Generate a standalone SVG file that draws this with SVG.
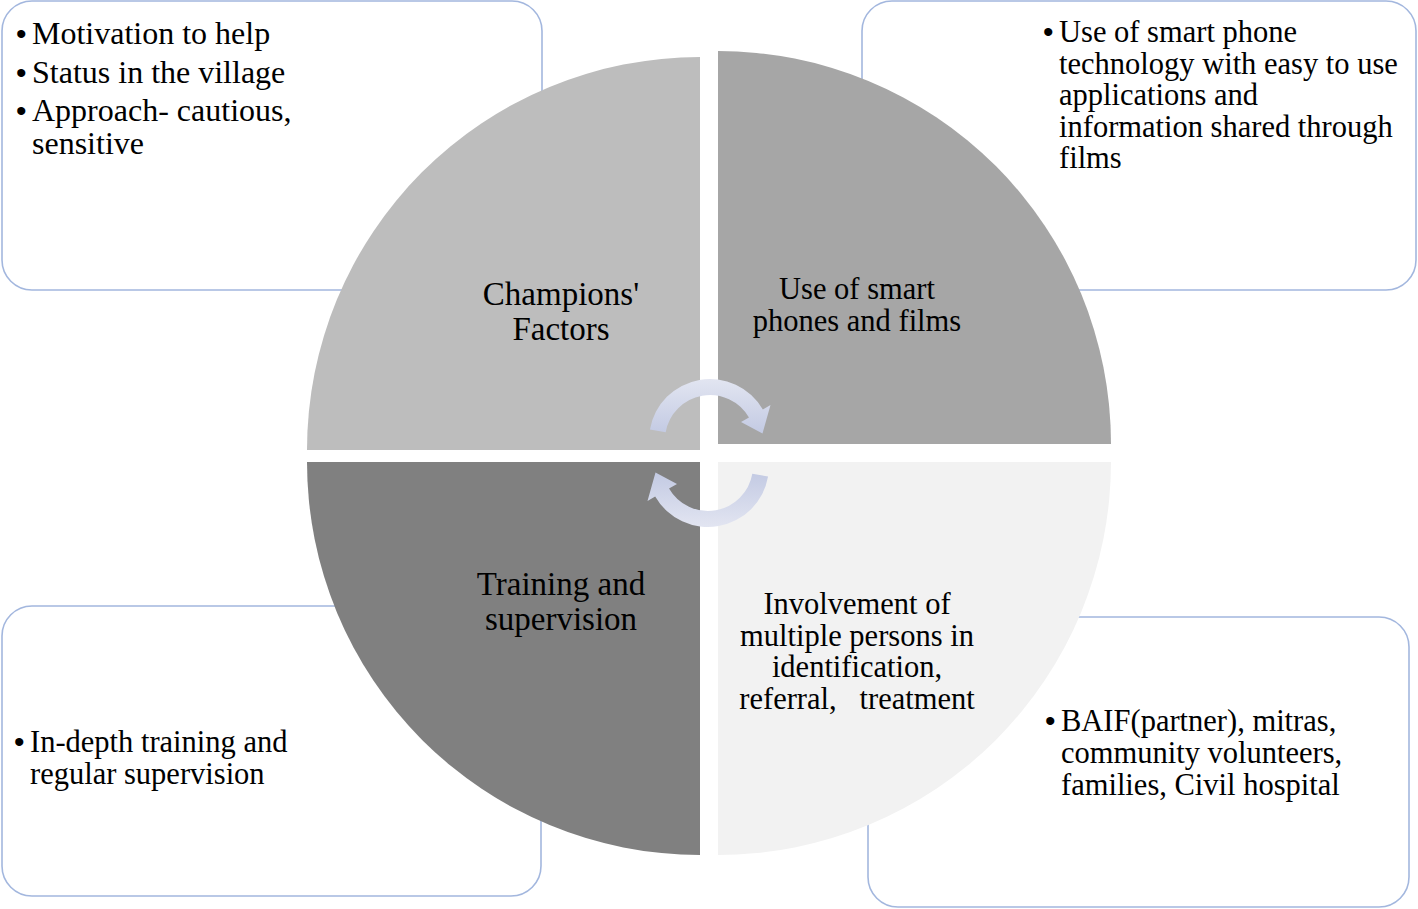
<svg xmlns="http://www.w3.org/2000/svg" width="1418" height="909" viewBox="0 0 1418 909">
<style>
.box{fill:#ffffff;stroke:#a3b7de;stroke-width:1.6}
.t{font-family:"Liberation Serif","Times New Roman",serif;fill:#000}
.b{font-family:"Liberation Sans",Arial,sans-serif;fill:#000;font-size:30px}
.lab{text-anchor:middle}
.arr{fill:url(#ag)}
</style>
<defs>
<linearGradient id="ag" x1="0" y1="0" x2="0" y2="1">
<stop offset="0" stop-color="#e2e5f1"/>
<stop offset="1" stop-color="#c3cae3"/>
</linearGradient>
</defs>
<rect width="1418" height="909" fill="#ffffff"/>

<g id="box-tl">
<rect class="box" x="2" y="1" width="540" height="289" rx="30"/>
<text class="b" x="16" y="44">•</text>
<text class="t" x="32" y="44" font-size="32">Motivation to help</text>
<text class="b" x="16" y="83">•</text>
<text class="t" x="32" y="83" font-size="32">Status in the village</text>
<text class="b" x="16" y="121">•</text>
<text class="t" x="32" y="121" font-size="32">Approach- cautious,</text>
<text class="t" x="32" y="154" font-size="32">sensitive</text>
</g>

<g id="box-tr">
<rect class="box" x="862" y="1" width="554" height="289" rx="30"/>
<text class="b" x="1043" y="42">•</text>
<text class="t" x="1059" y="42" font-size="30.5">Use of smart phone</text>
<text class="t" x="1059" y="73.5" font-size="30.5">technology with easy to use</text>
<text class="t" x="1059" y="105" font-size="30.5">applications and</text>
<text class="t" x="1059" y="137" font-size="30.5">information shared through</text>
<text class="t" x="1059" y="168" font-size="30.5">films</text>
</g>

<g id="box-bl">
<rect class="box" x="2" y="606" width="539" height="290" rx="30"/>
<text class="b" x="14" y="752">•</text>
<text class="t" x="30" y="752" font-size="30.5">In-depth training and</text>
<text class="t" x="30" y="784" font-size="30.5">regular supervision</text>
</g>

<g id="box-br">
<rect class="box" x="868" y="617" width="541" height="290" rx="30"/>
<text class="b" x="1045" y="731">•</text>
<text class="t" x="1061" y="731" font-size="30.5">BAIF(partner), mitras,</text>
<text class="t" x="1061" y="763" font-size="30.5">community volunteers,</text>
<text class="t" x="1061" y="795" font-size="30.5">families, Civil hospital</text>
</g>

<g id="q-champions">
<path d="M700 450 L307 450 A393 393 0 0 1 700 57 Z" fill="#bdbdbd"/>
<text class="t lab" x="561" y="305" font-size="33">Champions'</text>
<text class="t lab" x="561" y="340" font-size="33">Factors</text>
</g>

<g id="q-smartphones">
<path d="M718 444 L718 51 A393 393 0 0 1 1111 444 Z" fill="#a6a6a6"/>
<text class="t lab" x="857" y="299" font-size="30.5">Use of smart</text>
<text class="t lab" x="857" y="331" font-size="30.5">phones and films</text>
</g>

<g id="q-training">
<path d="M700 462 L700 855 A393 393 0 0 1 307 462 Z" fill="#808080"/>
<text class="t lab" x="561" y="595" font-size="33">Training and</text>
<text class="t lab" x="561" y="630" font-size="33">supervision</text>
</g>

<g id="q-involvement">
<path d="M718 462 L1111 462 A393 393 0 0 1 718 855 Z" fill="#f2f2f2"/>
<text class="t lab" x="857" y="614" font-size="30.5">Involvement of</text>
<text class="t lab" x="857" y="646" font-size="30.5">multiple persons in</text>
<text class="t lab" x="857" y="677" font-size="30.5">identification,</text>
<text class="t lab" x="857" y="709" font-size="30.5" xml:space="preserve">referral,   treatment</text>
</g>

<g id="connectors">
<path class="arr" d="M649.93 429.41 A61 61 0 0 1 762.83 409.5 L770.5 405 L762.49 433.5 L741 422 L748.97 417.5 A45 45 0 0 0 665.68 432.19 Z"/>
<path class="arr" transform="rotate(180 709 453)" d="M649.93 429.41 A61 61 0 0 1 762.83 409.5 L770.5 405 L762.49 433.5 L741 422 L748.97 417.5 A45 45 0 0 0 665.68 432.19 Z"/>
</g>
</svg>
